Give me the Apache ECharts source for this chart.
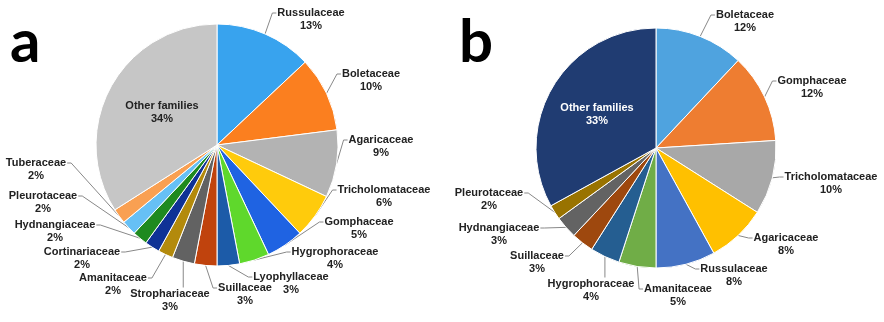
<!DOCTYPE html>
<html><head><meta charset="utf-8">
<script src="https://cdn.jsdelivr.net/npm/echarts@6/dist/echarts.min.js"></script>
<style>html,body{margin:0;padding:0;background:#fff}#c{width:884px;height:322px}</style>
</head><body><div id="c"></div>
<script>
// Panel a
const namesA = ['Russulaceae','Boletaceae','Agaricaceae','Tricholomataceae','Gomphaceae','Hygrophoraceae','Lyophyllaceae','Suillaceae','Strophariaceae','Amanitaceae','Cortinariaceae','Hydnangiaceae','Pleurotaceae','Tuberaceae','Other families'];
const valuesA = [13,10,9,6,5,4,3,3,3,2,2,2,2,2,34];
const colorsA = ['#38a3ee','#fb7f1f','#b3b3b3','#ffcb0c','#1f63e2','#5fd82c','#1c5ba8','#c0430d','#626262','#b38a0c','#0f3296','#1f8a1f','#66c0f5','#f9a052','#c6c6c6'];
// label anchor (text centre x, first-line centre y) — text placement only
const labelPosA = [[311,13],[371,74],[381,140],[384,190],[359,222],[335,252],[291,277],[245,288],[170,294],[113,278],[82,252],[55,225],[43,196],[36,163],[162,106]];
// Panel b
const namesB = ['Boletaceae','Gomphaceae','Tricholomataceae','Agaricaceae','Russulaceae','Amanitaceae','Hygrophoraceae','Suillaceae','Hydnangiaceae','Pleurotaceae','Other families'];
const valuesB = [12,12,10,8,8,5,4,3,3,2,33];
const colorsB = ['#4fa3df','#ee7d31','#a8a8a8','#ffc000','#4472c4','#70ad47','#255e91','#9e480e','#636363','#997300','#203c72'];
const labelPosB = [[745,15],[812,81],[831,177],[786,238],[734,269],[678,289],[591,284],[537,256],[499,228],[489,193],[597,108]];

function mk(names, values, colors, insideColor){
  return names.map((n,i)=>{
    const o = {name:n, value:values[i], itemStyle:{color:colors[i]}};
    if(n==='Other families'){
      o.label = {position:'inside', color:insideColor};
      o.labelLine = {show:false};
    }
    return o;
  });
}
function layoutFor(posArr){
  return function(p){
    const pos = posArr[p.dataIndex];
    const w = p.labelRect.width;
    const left = pos[0]-w/2, right = pos[0]+w/2;
    const top = pos[1]-6.5;
    const pts = p.labelLinePoints;
    let out;
    if(pts){
      const p0 = pts[0];
      if(p0[0] < left-3){ out = [p0,[left-5,pos[1]],[left-1,pos[1]]]; }
      else if(p0[0] > right+3){ out = [p0,[right+5,pos[1]],[right+1,pos[1]]]; }
      else { out = [p0,[p0[0],top],[p0[0],top]]; }
    }
    const r = {x:pos[0], y:top, align:'center', verticalAlign:'top'};
    if(out) r.labelLinePoints = out;
    return r;
  };
}
const labelCfg = {
  show:true, formatter:'{n|{b}}\n{n|{c}%}', fontFamily:'Liberation Sans', fontWeight:'bold', fontSize:11, color:'#222', overflow:'none',
  rich:{n:{fontFamily:'Liberation Sans', fontWeight:'bold', fontSize:11, align:'center', lineHeight:13}}
};
const chart = echarts.init(document.getElementById('c'));
chart.setOption({
  animation:false,
  graphic:[
    {type:'text', left:10, top:13, style:{text:'a', font:'bold 60px Lato, "Open Sans"', fill:'#000'}},
    {type:'text', left:459, top:13, style:{text:'b', font:'bold 60px Lato, "Open Sans"', fill:'#000'}}
  ],
  series:[
    {type:'pie', center:[217,145], radius:121, startAngle:90, clockwise:true, avoidLabelOverlap:false,
     itemStyle:{borderColor:'#fff', borderWidth:1}, label:labelCfg,
     labelLine:{show:true, length:10, length2:10, lineStyle:{color:'#888', width:1}},
     labelLayout:layoutFor(labelPosA),
     data:mk(namesA, valuesA, colorsA, '#222')},
    {type:'pie', center:[656,148], radius:120, startAngle:90, clockwise:true, avoidLabelOverlap:false,
     itemStyle:{borderColor:'#fff', borderWidth:1}, label:labelCfg,
     labelLine:{show:true, length:10, length2:10, lineStyle:{color:'#888', width:1}},
     labelLayout:layoutFor(labelPosB),
     data:mk(namesB, valuesB, colorsB, '#fff')}
  ]
});
</script></body></html>
